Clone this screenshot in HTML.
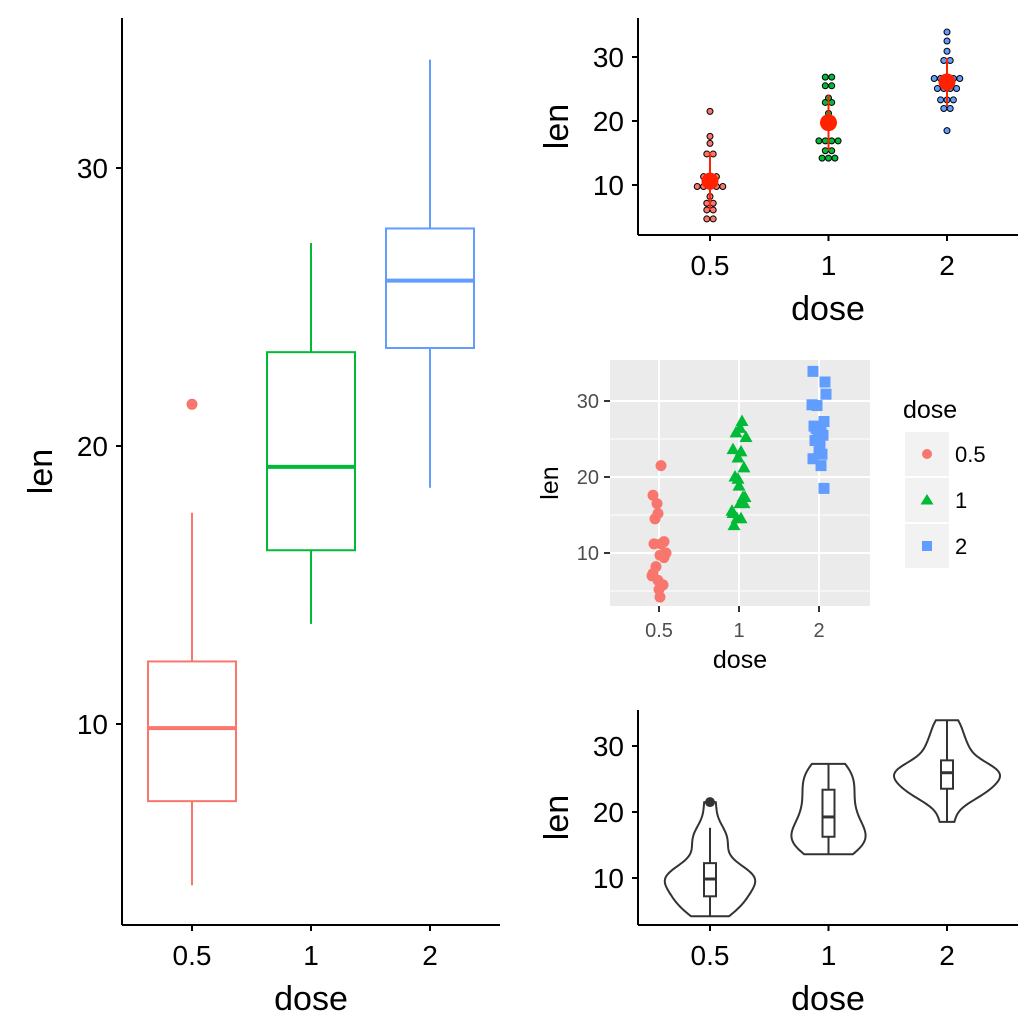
<!DOCTYPE html>
<html><head><meta charset="utf-8"><style>
body{margin:0;background:#fff}
svg{display:block;font-family:"Liberation Sans",Arial,sans-serif}
</style></head><body>
<svg id="c" width="1036" height="1036" xmlns="http://www.w3.org/2000/svg"></svg>
<script>
const doses=["0.5","1","2"];
const len05=[4.2,11.5,7.3,5.8,6.4,10,11.2,11.2,5.2,7,15.2,21.5,17.6,9.7,14.5,10,8.2,9.4,16.5,9.7];
const len1=[16.5,16.5,15.2,17.3,22.5,17.3,13.6,14.5,18.8,15.5,19.7,23.3,23.6,26.4,20,25.2,25.8,21.2,14.5,27.3];
const len2=[23.6,18.5,33.9,25.5,26.4,32.5,26.7,21.5,23.3,29.5,25.5,26.4,22.4,24.5,24.8,30.9,26.4,27.3,29.4,23];
const groups=[len05,len1,len2];
const colors=["#F8766D","#00BA38","#619CFF"];
const yTicks=[10,20,30];
const jitter=[1,5,-6,4,-1,6,-5,2,0,-7,-1,2,-6,1,-4,7,-3,5,-2,3];
const svg=document.getElementById('c');
const NS="http://www.w3.org/2000/svg";
function el(tag,attrs,parent,text){const e=document.createElementNS(NS,tag);for(const k in attrs)e.setAttribute(k,attrs[k]);if(text!==undefined)e.textContent=text;(parent||svg).appendChild(e);return e;}
function q(a,p){const s=[...a].sort((x,y)=>x-y);const h=(s.length-1)*p;const l=Math.floor(h);return s[l]+(s[Math.min(l+1,s.length-1)]-s[l])*(h-l);}
function stats(a){const q1=q(a,.25),q3=q(a,.75),m=q(a,.5),iqr=q3-q1;const s=[...a].sort((x,y)=>x-y);const lo=s.find(v=>v>=q1-1.5*iqr),hi=[...s].reverse().find(v=>v<=q3+1.5*iqr);return{q1,q3,m,lo,hi,out:s.filter(v=>v<lo||v>hi)};}
function mean(a){return a.reduce((s,v)=>s+v,0)/a.length;}
function sd(a){const m=mean(a);return Math.sqrt(a.reduce((s,v)=>s+(v-m)*(v-m),0)/(a.length-1));}
function axes(g,o){
  el('line',{x1:o.ax,y1:o.top,x2:o.ax,y2:o.ay,stroke:'#000','stroke-width':2},g);
  el('line',{x1:o.ax,y1:o.ay,x2:o.right,y2:o.ay,stroke:'#000','stroke-width':2},g);
  yTicks.forEach(t=>{const y=o.y(t);el('line',{x1:o.ax-6,y1:y,x2:o.ax,y2:y,stroke:'#000','stroke-width':2},g);
    const tx=el('text',{x:o.ax-14,y:y+o.fs*0.36,'text-anchor':'end','font-size':o.fs},g,t);});
  doses.forEach((d,i)=>{const x=o.x(i);el('line',{x1:x,y1:o.ay,x2:x,y2:o.ay+6,stroke:'#000','stroke-width':2},g);
    const tx=el('text',{x:x,y:o.ay+40,'text-anchor':'middle','font-size':o.fs},g,d);});
  const xt=el('text',{x:(o.ax+o.right)/2,y:o.ay+85,'text-anchor':'middle','font-size':o.tfs},g,'dose');
  const yt=el('text',{x:0,y:0,'text-anchor':'middle','font-size':o.tfs,transform:`translate(${o.ytx},${(o.top+o.ay)/2}) rotate(-90)`},g,'len');
}
// Panel 1: boxplot
{const g=el('g',{});
 const y=v=>724-(v-10)*27.8, x=i=>192+119*i;
 axes(g,{ax:122,ay:925,top:18,right:500,y,x,fs:28,tfs:34,ytx:52});
 groups.forEach((a,i)=>{const s=stats(a),c=colors[i],cx=x(i),w=44;
  const b=el('g',{},g);
  el('line',{x1:cx,y1:y(s.hi),x2:cx,y2:y(s.q3),stroke:c,'stroke-width':2},b);
  el('line',{x1:cx,y1:y(s.lo),x2:cx,y2:y(s.q1),stroke:c,'stroke-width':2},b);
  el('rect',{x:cx-w,y:y(s.q3),width:2*w,height:y(s.q1)-y(s.q3),fill:'#fff',stroke:c,'stroke-width':2},b);
  el('line',{x1:cx-w,y1:y(s.m),x2:cx+w,y2:y(s.m),stroke:c,'stroke-width':4},b);
  s.out.forEach(v=>el('circle',{cx:cx,cy:y(v),r:5.5,fill:c},b));});}
// Panel 2: dotplot
{const g=el('g',{});
 const y=v=>185-(v-10)*6.4, x=i=>710+118.5*i;
 axes(g,{ax:638,ay:235,top:18,right:1018,y,x,fs:28,tfs:34,ytx:568});
 groups.forEach((a,i)=>{const s=[...a].sort((p,q)=>p-q);const bins=[];let cur=null;
  s.forEach(v=>{if(cur&&v-cur.start<=1.1)cur.vals.push(v);else{cur={start:v,vals:[v]};bins.push(cur);}});
  bins.forEach(b=>{const cy=y(mean(b.vals));const n=b.vals.length;b.vals.forEach((v,k)=>{
    const d=el('circle',{cx:x(i)+(k-(n-1)/2)*6.4,cy:cy,r:3,fill:colors[i],stroke:'#000','stroke-width':1},g);});});
  const m=mean(a),e=sd(a);
  el('line',{x1:x(i),y1:y(m-e),x2:x(i),y2:y(m+e),stroke:'#FF2200','stroke-width':2},g);
  el('circle',{cx:x(i),cy:y(m),r:8.5,fill:'#FF2200'},g);});}
// Panel 3: jitter with grey background
{const g=el('g',{});
 const y=v=>553-(v-10)*7.6, x=i=>659+80*i;
 el('rect',{x:610,y:360,width:260,height:246,fill:'#EBEBEB'},g);
 [5,15,25].forEach(t=>el('line',{x1:610,x2:870,y1:y(t),y2:y(t),stroke:'#fff','stroke-width':1},g));
 yTicks.forEach(t=>el('line',{x1:610,x2:870,y1:y(t),y2:y(t),stroke:'#fff','stroke-width':2},g));
 doses.forEach((d,i)=>el('line',{x1:x(i),x2:x(i),y1:360,y2:606,stroke:'#fff','stroke-width':2},g));
 yTicks.forEach(t=>{el('line',{x1:604,x2:610,y1:y(t),y2:y(t),stroke:'#333','stroke-width':2},g);
  el('text',{x:599,y:y(t)+7,'text-anchor':'end','font-size':20,fill:'#4D4D4D'},g,t);});
 doses.forEach((d,i)=>{el('line',{x1:x(i),x2:x(i),y1:606,y2:612,stroke:'#333','stroke-width':2},g);
  el('text',{x:x(i),y:637,'text-anchor':'middle','font-size':20,fill:'#4D4D4D'},g,d);});
 el('text',{x:740,y:668,'text-anchor':'middle','font-size':25},g,'dose');
 el('text',{x:0,y:0,'text-anchor':'middle','font-size':25,transform:'translate(558,483) rotate(-90)'},g,'len');
 groups.forEach((a,i)=>a.forEach((v,k)=>{const px=x(i)+jitter[k],py=y(v);let m;
  if(i==0)m=el('circle',{cx:px,cy:py,r:5.5,fill:colors[0]},g);
  else if(i==1)m=el('polygon',{points:`${px},${py-7} ${px-6.5},${py+4.5} ${px+6.5},${py+4.5}`,fill:colors[1]},g);
  else m=el('rect',{x:px-5.5,y:py-5.5,width:11,height:11,fill:colors[2]},g);
  }));
 const lg=el('g',{},g);
 el('text',{x:903,y:418,'font-size':25},lg,'dose');
 doses.forEach((d,i)=>{const cy=454+46*i;el('rect',{x:905,y:cy-22,width:44,height:44,fill:'#F2F2F2'},lg);
  if(i==0)el('circle',{cx:927,cy:cy,r:5,fill:colors[0]},lg);
  else if(i==1)el('polygon',{points:`927,${cy-6} 920.5,${cy+4.5} 933.5,${cy+4.5}`,fill:colors[1]},lg);
  else el('rect',{x:922,y:cy-5,width:10,height:10,fill:colors[2]},lg);
  el('text',{x:955,y:cy+8,'font-size':22},lg,d);});}
// Panel 4: violin
{const g=el('g',{});
 const y=v=>878-(v-10)*6.6, x=i=>710+118.5*i;
 axes(g,{ax:638,ay:925,top:710,right:1018,y,x,fs:28,tfs:34,ytx:568});
 function bw(a){const s=sd(a),iqr=q(a,.75)-q(a,.25);return 0.9*Math.min(s,iqr/1.34)*Math.pow(a.length,-0.2);}
 const dens=groups.map(a=>{const h=bw(a),mn=Math.min(...a),mx=Math.max(...a),pts=[];
  for(let k=0;k<=100;k++){const v=mn+(mx-mn)*k/100;let d=0;a.forEach(t=>{const z=(v-t)/h;d+=Math.exp(-z*z/2);});pts.push([v,d/(a.length*h*Math.sqrt(2*Math.PI))]);}return pts;});
 const dmax=Math.max(...dens.flat().map(p=>p[1]));
 dens.forEach((pts,i)=>{const cx=x(i),hw=53;let d='M'+pts.map(p=>`${cx+p[1]/dmax*hw},${y(p[0])}`).join('L');
  d+='L'+[...pts].reverse().map(p=>`${cx-p[1]/dmax*hw},${y(p[0])}`).join('L')+'Z';
  el('path',{d,fill:'#fff',stroke:'#333','stroke-width':2},g);
  const s=stats(groups[i]),w=6;
  el('line',{x1:cx,y1:y(s.hi),x2:cx,y2:y(s.lo),stroke:'#333','stroke-width':2},g);
  el('rect',{x:cx-w,y:y(s.q3),width:2*w,height:y(s.q1)-y(s.q3),fill:'#fff',stroke:'#333','stroke-width':2},g);
  el('line',{x1:cx-w,y1:y(s.m),x2:cx+w,y2:y(s.m),stroke:'#333','stroke-width':3},g);
  s.out.forEach(v=>el('circle',{cx:cx,cy:y(v),r:5,fill:'#333'},g));});}
</script>
</body></html>
